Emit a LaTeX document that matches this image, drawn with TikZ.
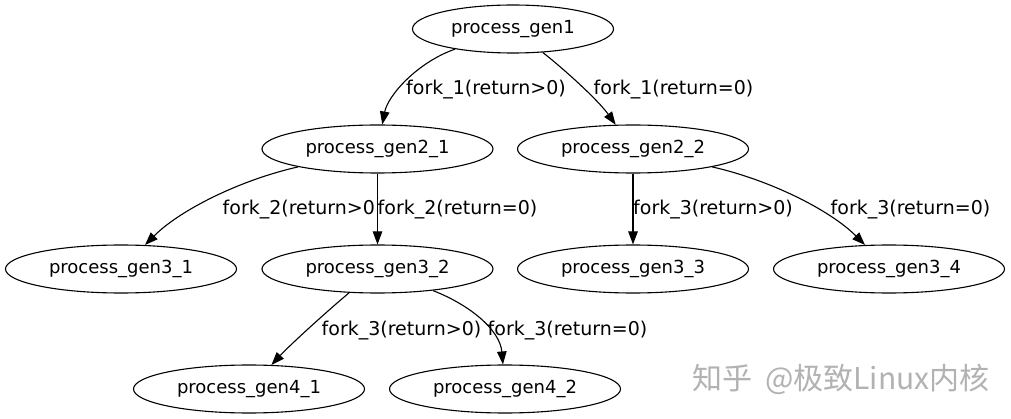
\documentclass[tikz,border=0pt]{standalone}
\usepackage{fontspec}
\setmainfont{DejaVu Sans}
\newfontfamily\cjkfont{Noto Sans CJK SC}
\usetikzlibrary{shapes.geometric,arrows.meta}
\begin{document}
\begin{tikzpicture}[x=1pt,y=-1pt,
  proc/.style={ellipse,draw,line width=1.1pt,minimum width=231pt,minimum height=48pt,inner sep=0pt,font=\fontsize{18}{20}\selectfont},
  lbl/.style={anchor=base west,inner sep=0pt,font=\fontsize{19}{21}\selectfont},
  conn/.style={line width=1.1pt,-{Triangle[length=13pt,width=9.5pt]}}]
\useasboundingbox[fill=white] (0,0) rectangle (1011,419);
% nodes
\node[proc,minimum width=201pt] (g1) at (513,29) {process\_gen1};
\node[proc] (g21) at (377.5,149) {process\_gen2\_1};
\node[proc] (g22) at (633,149) {process\_gen2\_2};
\node[proc] (g31) at (121,269) {process\_gen3\_1};
\node[proc] (g32) at (377.5,269) {process\_gen3\_2};
\node[proc] (g33) at (633,269) {process\_gen3\_3};
\node[proc] (g34) at (889,269) {process\_gen3\_4};
\node[proc] (g41) at (249,389) {process\_gen4\_1};
\node[proc] (g42) at (505,389) {process\_gen4\_2};
% edges
\draw[conn] (g1) .. controls (418,62) and (388,95) .. (g21);
\draw[conn] (g1) .. controls (565,70) and (598,100) .. (g22);
\draw[conn] (g21) .. controls (240,180) and (180,210) .. (g31);
\draw[conn] (g21) -- (g32);
\draw[conn] (g22) -- (g33);
\draw[conn] (g22) .. controls (770,180) and (830,210) .. (g34);
\draw[conn] (g32) .. controls (325,313) and (290,345) .. (g41);
\draw[conn] (g32) .. controls (470,305) and (500,330) .. (g42);
% labels
\node[lbl] (l1) at (406,95) {fork\_1(return>0)};
\node[lbl] (l2) at (593.5,95) {fork\_1(return=0)};
\node[lbl] (l3) at (222.5,215) {fork\_2(return>0};
\node[lbl] (l4) at (377.5,215) {fork\_2(return=0)};
\node[lbl] (l5) at (633,215) {fork\_3(return>0)};
\node[lbl] (l6) at (830.5,215) {fork\_3(return=0)};
\node[lbl] (l7) at (321.5,335) {fork\_3(return>0)};
\node[lbl] (l8) at (487.5,335) {fork\_3(return=0)};
% watermark
\node[anchor=base west,inner sep=0pt,text=black!30,font=\cjkfont\fontsize{30}{32}\selectfont] (wm) at (692,389) {知乎\hspace{13pt}@极致Linux内核};
\end{tikzpicture}
\end{document}
